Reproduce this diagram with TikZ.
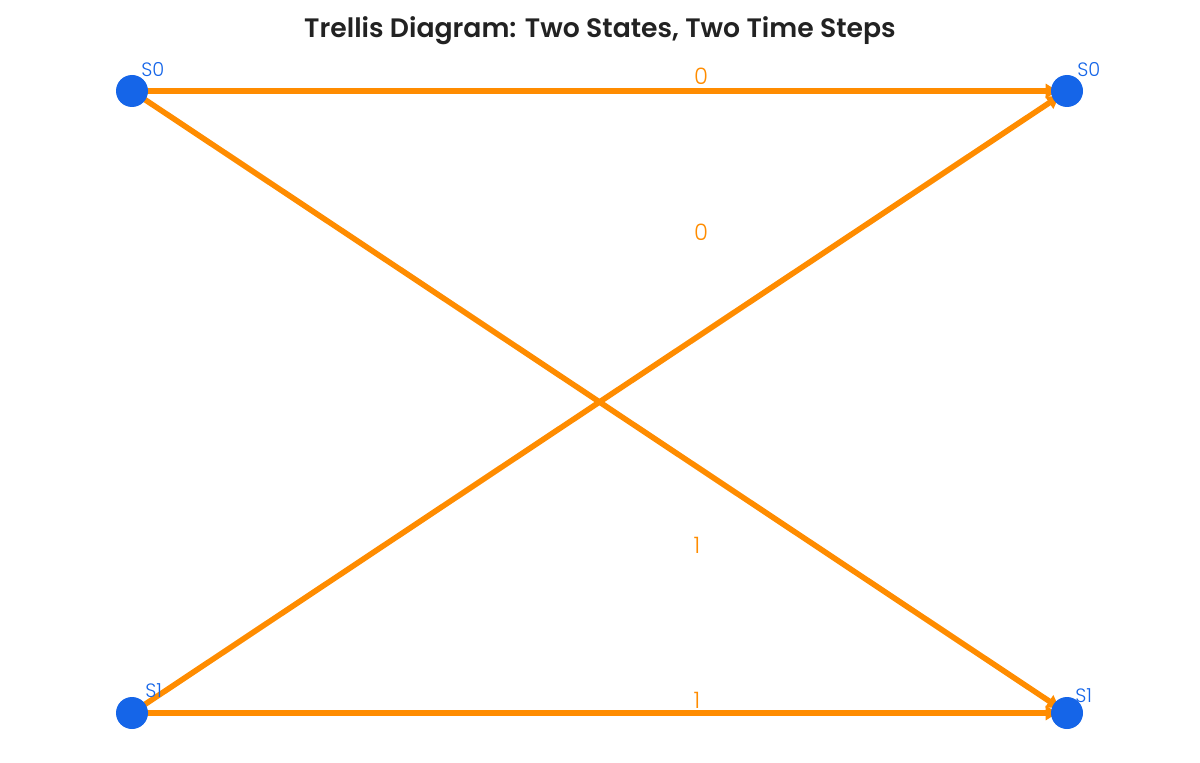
\documentclass[tikz,border=0pt]{standalone}
\usepackage{fontspec}
\setmainfont{Poppins}
\newfontfamily\lightfont{Poppins Light}
\newfontfamily\titlefont{Poppins SemiBold}
\usetikzlibrary{arrows.meta,backgrounds}
\definecolor{edgeorange}{HTML}{FF8C00}
\definecolor{stateblue}{HTML}{1565E8}
\definecolor{titlegray}{HTML}{222222}
\tikzset{
  statenode/.style={circle,fill=stateblue,draw=none,minimum size=24pt,inner sep=0pt},
  statelabel/.style={anchor=base west,inner sep=0pt,text=stateblue,font=\lightfont\fontsize{14.5pt}{16pt}\selectfont},
  edgelabel/.style={anchor=base,inner sep=0pt,text=edgeorange,font=\lightfont\fontsize{17pt}{19pt}\selectfont},
  trans/.style={draw=edgeorange,line width=4.2pt,-{Triangle[length=9pt,width=10.5pt]},shorten >=7pt},
}
\begin{document}
\begin{tikzpicture}[x=0.75pt,y=-0.75pt]
\useasboundingbox (0,0) rectangle (1200,763);
\node[anchor=base,inner sep=0pt,text=titlegray,font=\titlefont\fontsize{20pt}{24pt}\selectfont] (title) at (600,38) {Trellis Diagram: Two States, Two Time Steps};
\node[statenode] (a0) at (132,91) {};
\node[statenode] (a1) at (132,713) {};
\node[statenode] (b0) at (1067,91) {};
\node[statenode] (b1) at (1067,713) {};
\node[statelabel] (la0) at (141,77) {S0};
\node[statelabel] (lb0) at (1077,77) {S0};
\node[statelabel] (la1) at (145,697) {S1};
\node[statelabel] (lb1) at (1075,702) {S1};
\begin{scope}[on background layer]
\draw[trans] (a0.center) -- (b0.center);
\draw[trans] (a0.center) -- (b1.center);
\draw[trans] (a1.center) -- (b0.center);
\draw[trans] (a1.center) -- (b1.center);
\end{scope}
\node[edgelabel] (e1) at (701,85) {0};
\node[edgelabel] (e2) at (701,241) {0};
\node[edgelabel] (e3) at (697,553) {1};
\node[edgelabel] (e4) at (697,708) {1};
\end{tikzpicture}
\end{document}
